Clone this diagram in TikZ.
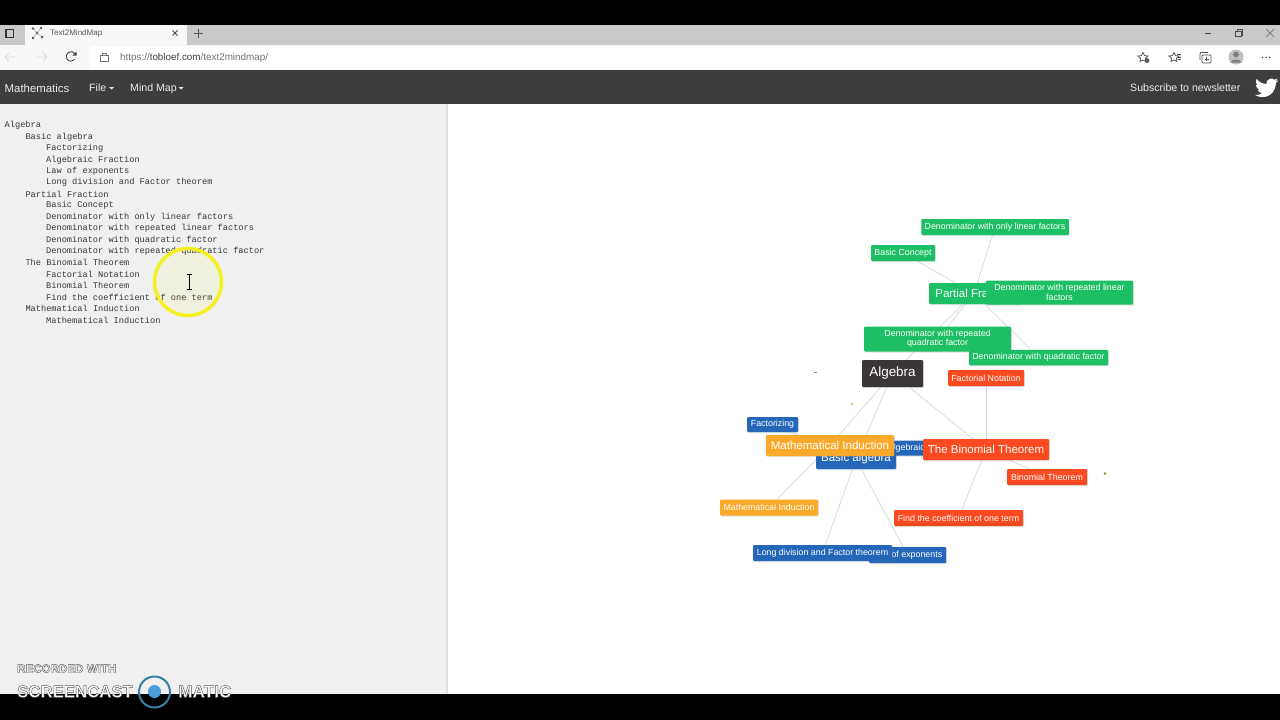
\documentclass[tikz,border=0pt]{standalone}
\usepackage{fontspec}
\setmainfont{Liberation Sans}
\setmonofont{Liberation Mono}
\usetikzlibrary{shadows}
\pgfdeclarelayer{bg}
\pgfdeclarelayer{edges}
\pgfsetlayers{bg,edges,main}
\definecolor{mgreen}{HTML}{1CBF63}
\definecolor{mblue}{HTML}{2466B8}
\definecolor{mred}{HTML}{FB4A20}
\definecolor{morange}{HTML}{FBA92B}
\definecolor{mdark}{HTML}{3A3636}
\definecolor{navbar}{HTML}{3D3D3D}
\definecolor{edgegray}{HTML}{DADADA}
\definecolor{panel}{HTML}{F0F0F0}
\definecolor{iconcol}{HTML}{555555}
\definecolor{hilite}{HTML}{F4F022}
\definecolor{ringcol}{HTML}{3A7FA8}
\definecolor{dotcol}{HTML}{4A9DD8}
\tikzset{
  x=1pt,y=-1pt,
  mapbox/.style={rectangle,rounded corners=1pt,inner sep=0pt,align=center,text=white,
     drop shadow={opacity=.22,shadow xshift=.8pt,shadow yshift=-1pt}},
  leaf/.style={mapbox,font=\fontsize{8.85}{9.4}\selectfont},
  branch/.style={mapbox,font=\fontsize{11.5}{12}\selectfont},
  rootbox/.style={mapbox,font=\fontsize{13.4}{14}\selectfont},
  edge/.style={draw=edgegray,line width=.75pt},
  code/.style={anchor=west,inner sep=0pt,yshift=-.5pt,text=black!78,font=\ttfamily\fontsize{8.66}{10}\selectfont},
  navtxt/.style={anchor=west,inner sep=0pt,text=white!92!black,font=\fontsize{10.6}{12}\selectfont},
  uitxt/.style={anchor=west,inner sep=0pt,font=\fontsize{8}{10}\selectfont},
  icon/.style={draw=iconcol,line width=.8pt,fill=none},
  wm/.style={anchor=west,inner sep=0pt,text=white},
}
\newcommand{\outl}{\special{pdf:code 2 Tr 0.45 w 0.35 0.35 0.35 RG 1 1 1 rg}}
\newcommand{\outr}{\special{pdf:code 0 Tr}}
\begin{document}
\begin{tikzpicture}
\useasboundingbox (0,0) rectangle (1280,720);
% window
\begin{pgfonlayer}{bg}
\fill[white] (0,0) rectangle (1280,720);
\end{pgfonlayer}
\fill[black] (0,0) rectangle (1280,25);
\fill[black] (0,694) rectangle (1280,720);
\fill[black!21] (0,25) rectangle (1280,45);
\fill[black!3] (25,25) rectangle (187,45);
\fill[black!3] (0,45) rectangle (1280,70);
\fill[white] (90,46) rectangle (1280,69);
\fill[navbar] (0,70) rectangle (1280,104);
\fill[panel] (0,104) rectangle (446,694);
\fill[black!12] (446,104) rectangle (448,694);
% tab strip
\draw[draw=black!80,line width=.9pt] (5,29.5) rectangle (13,37.5);
\fill[black!80] (5,29.5) rectangle (7,37.5);
\foreach \a/\b in {33/28.5,37/33,41/28,42/37,33/38,37/33}{\fill[black!70] (\a,\b) circle (1.3);}
\draw[black!45,line width=.4pt] (33,28.5)--(37,33)--(41,28) (37,33)--(42,37) (37,33)--(33,38);
\node[uitxt,text=black!65] (tabname) at (50,33.5) {Text2MindMap};
\draw[black!70,line width=.8pt] (172.5,30.5)--(177.5,35.5) (177.5,30.5)--(172.5,35.5);
\draw[black!65,line width=.8pt] (193.5,33)--(202.5,33) (198,28.5)--(198,37.5);
\draw[black!70,line width=.7pt] (1205,33)--(1211,33);
\draw[black!70,line width=.7pt] (1235,31)rectangle(1241,36.5) (1237,31)--(1237,29.5)--(1242.5,29.5)--(1242.5,35)--(1241,35);
\draw[black!55,line width=.7pt] (1266,29)--(1274,37) (1274,29)--(1266,37);
% address bar
\draw[black!15,line width=.9pt] (5,57)--(15,57) (9,53)--(5,57)--(9,61);
\draw[black!15,line width=.9pt] (37,57)--(47,57) (43,53)--(47,57)--(43,61);
\draw[black!75,line width=.9pt] (75.2,54) arc[start angle=-30,end angle=-320,radius=4.8];
\fill[black!75] (76.5,51.5)--(76.5,55.5)--(72.5,55.5)--cycle;
\draw[black!55,line width=.6pt] (100.5,55)rectangle(108,61.5) (102.5,55)--(102.5,53)--(106,53)--(106,55);
\node[uitxt,text=black!55,font=\fontsize{9.85}{11}\selectfont] (urltext) at (120,57.5) {https://\textcolor{black!75}{tobloef.com}/text2mindmap/};
\draw[icon] (1143,52.5)--(1144.5,55.6)--(1148,56)--(1145.4,58.3)--(1146,61.5)--(1143,60)--(1140,61.5)--(1140.6,58.3)--(1138,56)--(1141.5,55.6)--cycle;
\fill[iconcol] (1147,60.5) circle (2.4);
\draw[icon] (1174,52.5)--(1175.5,55.6)--(1179,56)--(1176.4,58.3)--(1177,61.5)--(1174,60)--(1171,61.5)--(1171.6,58.3)--(1169,56)--(1172.5,55.6)--cycle;
\draw[icon] (1177,54.5)--(1181,54.5) (1178,57)--(1181,57) (1178,59.5)--(1181,59.5);
\draw[icon,rounded corners=1pt] (1202,55)rectangle(1211,63) (1200,60)--(1200,52.5)--(1208,52.5);
\draw[icon] (1206.5,57)--(1206.5,61) (1204.5,59)--(1208.5,59);
\fill[black!25] (1236,57) circle (7.5);
\fill[black!50] (1236,54.5) circle (2.9);
\fill[black!50] (1230.5,62.5) .. controls (1231,58.5) and (1241,58.5) .. (1241.5,62.5) -- cycle;
\foreach \a in {1262.5,1266,1269.5}{\fill[black!70] (\a,57.5) circle (.8);}
% navbar
\node[navtxt,font=\fontsize{11.4}{12}\selectfont] (brand) at (4.5,88) {Mathematics};
\node[navtxt] (filemenu) at (89,88) {File};
\fill[white!90!black] (109,87)--(114,87)--(111.5,89.5)--cycle;
\node[navtxt] (mapmenu) at (130,88.7) {Mind Map};
\fill[white!90!black] (178.5,87)--(183.5,87)--(181,89.5)--cycle;
\node[navtxt] (subscribe) at (1130,87.3) {Subscribe to newsletter};
\begin{scope}[shift={(1255,76)},x=.97pt,y=-.97pt]
\fill[white] (24,4.6) .. controls (23.1,5) and (22.1,5.25) .. (21.13,5.35) .. controls (22.15,4.7) and (22.9,3.75) .. (23.29,2.62) .. controls (22.34,3.18) and (21.29,3.58) .. (20.17,3.8) .. controls (18.9,2.4) and (16.5,2) .. (14.6,3.2) .. controls (12.7,4.3) and (11.3,6.3) .. (11.79,8.29) .. controls (7.69,8.09) and (4.07,6.13) .. (1.64,3.16) .. controls (1.2,3.9) and (.97,4.75) .. (.97,5.64) .. controls (.97,7.35) and (1.84,8.85) .. (3.16,9.73) .. controls (2.36,9.7) and (1.6,9.48) .. (.93,9.12) -- (.93,9.18) .. controls (.93,11.6) and (2.6,13.5) .. (4.88,14) .. controls (4.16,14.2) and (3.4,14.2) .. (2.67,14.09) .. controls (3.3,16) and (5.1,17.45) .. (7.27,17.5) .. controls (5.5,18.9) and (3.4,19.6) .. (1.17,19.6) .. controls (.78,19.6) and (.39,19.58) .. (0,19.54) .. controls (2.2,20.95) and (4.85,21.75) .. (7.56,21.75) .. controls (16.6,21.75) and (21.55,14.25) .. (21.55,7.76) .. controls (21.55,7.55) and (21.55,7.34) .. (21.54,7.13) .. controls (22.5,6.44) and (23.33,5.58) .. (24,4.59) -- cycle;
\end{scope}
% text outline
\node[code] (t1) at (4.5,125) {Algebra};
\node[code] (t2) at (25.3,136.4) {Basic algebra};
\node[code] (t3) at (46,147.9) {Factorizing};
\node[code] (t4) at (46,159.3) {Algebraic Fraction};
\node[code] (t5) at (46,170.8) {Law of exponents};
\node[code] (t6) at (46,182.2) {Long division and Factor theorem};
\node[code] (t7) at (25.3,193.6) {Partial Fraction};
\node[code] (t8) at (46,205.1) {Basic Concept};
\node[code] (t9) at (46,216.5) {Denominator with only linear factors};
\node[code] (t10) at (46,228) {Denominator with repeated linear factors};
\node[code] (t11) at (46,239.4) {Denominator with quadratic factor};
\node[code] (t12) at (46,250.8) {Denominator with repeated quadratic factor};
\node[code] (t13) at (25.3,262.3) {The Binomial Theorem};
\node[code] (t14) at (46,273.7) {Factorial Notation};
\node[code] (t15) at (46,285.2) {Binomial Theorem};
\node[code] (t16) at (46,296.6) {Find the coefficient of one term};
\node[code] (t17) at (25.3,308) {Mathematical Induction};
\node[code] (t18) at (46,319.5) {Mathematical Induction};
% cursor highlight
\fill[hilite,opacity=.08] (188,282) circle (34);
\draw[draw=hilite,line width=3.5pt] (188,282) circle (33.5);
\draw[black,line width=.8pt] (189,274.5)--(189,289.5) (186.5,274.5)--(191.5,274.5) (186.5,289.5)--(191.5,289.5);
% mind map
\node[leaf,fill=mblue,minimum width=51,minimum height=15] (fac) at (772.5,424.5) {Factorizing};
\node[leaf,fill=mblue,minimum width=87,minimum height=15] (afr) at (923.5,448) {Algebraic Fraction};
\node[leaf,fill=mblue,minimum width=77,minimum height=16] (law) at (907.5,555) {Law of exponents};
\node[leaf,fill=mblue,minimum width=139,minimum height=16] (lon) at (822.5,553) {Long division and Factor theorem};
\node[branch,fill=mblue,minimum width=80,minimum height=20] (bas) at (856,459) {Basic algebra};
\node[branch,fill=morange,minimum width=128,minimum height=21] (mi) at (830,445.5) {Mathematical Induction};
\node[leaf,fill=morange,minimum width=98,minimum height=16] (mis) at (769,507.5) {Mathematical Induction};
\node[branch,fill=mgreen,minimum width=90,minimum height=21] (pf) at (974,293.5) {Partial Fraction};
\node[leaf,fill=mgreen,minimum width=147.5,minimum height=16] (dol) at (995,227) {Denominator with only linear factors};
\node[leaf,fill=mgreen,minimum width=64,minimum height=16] (bc) at (903,253) {Basic Concept};
\node[leaf,fill=mgreen,minimum width=147,minimum height=24] (drl) at (1059.5,292.5) {Denominator with repeated linear\\factors};
\node[leaf,fill=mgreen,minimum width=147,minimum height=25] (drq) at (937.5,339) {Denominator with repeated\\quadratic factor};
\node[leaf,fill=mgreen,minimum width=139,minimum height=15.5] (dq) at (1038.5,357.5) {Denominator with quadratic factor};
\node[rootbox,fill=mdark,minimum width=61,minimum height=27] (alg) at (892.5,373.5) {Algebra};
\node[leaf,fill=mred,minimum width=76,minimum height=16] (fn) at (986,378) {Factorial Notation};
\node[branch,fill=mred,minimum width=126,minimum height=21] (bt) at (986,449.5) {The Binomial Theorem};
\node[leaf,fill=mred,minimum width=80,minimum height=16] (bts) at (1047,477) {Binomial Theorem};
\node[leaf,fill=mred,minimum width=129,minimum height=16] (fc) at (958.5,518) {Find the coefficient of one term};
\begin{pgfonlayer}{edges}
\draw[edge] (alg) -- (bas);
\draw[edge] (alg) -- (pf);
\draw[edge] (alg) -- (bt);
\draw[edge] (alg) -- (mi);
\draw[edge] (bas) -- (fac);
\draw[edge] (bas) -- (afr);
\draw[edge] (bas) -- (law);
\draw[edge] (bas) -- (lon);
\draw[edge] (pf) -- (bc);
\draw[edge] (pf) -- (dol);
\draw[edge] (pf) -- (drl);
\draw[edge] (pf) -- (dq);
\draw[edge] (pf) -- (drq);
\draw[edge] (bt) -- (fn);
\draw[edge] (bt) -- (bts);
\draw[edge] (bt) -- (fc);
\draw[edge] (mi) -- (mis);
\end{pgfonlayer}
% specks
\fill[black!45] (814,371.5) rectangle (816.5,372.3);
\fill[olive!70] (852,404) circle (1);
\fill[olive] (1105,473.5) circle (1.3);
% watermark
\node[wm,font=\bfseries\fontsize{11.6}{12}\selectfont] (wm1) at (17,668.5) {\outl RECORDED WITH\outr};
\node[wm,font=\bfseries\fontsize{16.8}{18}\selectfont] (wm2) at (17,691.5) {\outl SCREENCAST\outr};
\node[wm,font=\bfseries\fontsize{17.2}{18}\selectfont] (wm3) at (178,691.5) {\outl MATIC\outr};
\draw[draw=ringcol,line width=2pt] (154.5,692) circle (15.5);
\fill[dotcol] (154.5,691.5) circle (6.5);
\end{tikzpicture}
\end{document}
